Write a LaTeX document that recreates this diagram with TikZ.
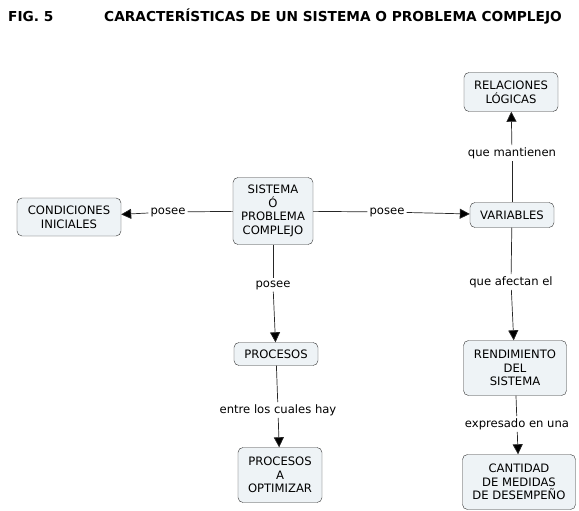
\documentclass[tikz,border=0pt]{standalone}
\usepackage{fontspec}
\setmainfont{DejaVu Sans}
\usetikzlibrary{arrows.meta, positioning}
\definecolor{conceptfill}{HTML}{EEF3F6}
\definecolor{conceptline}{HTML}{333333}

\tikzset{
    concept/.style={draw=conceptline, fill=conceptfill, rounded corners=5pt, align=center,
        font=\fontsize{11.6}{13.6}\selectfont, inner xsep=3pt, inner ysep=3pt},
    linklabel/.style={font=\fontsize{11.6}{13}\selectfont, inner sep=2pt, fill=white},
    link/.style={draw=black!85, line width=0.7pt},
    linkarrow/.style={link, -{Triangle[length=10pt, width=10pt, fill=black]}}
}

\begin{document}
\begin{tikzpicture}[x=1pt, y=-1pt]
    \useasboundingbox (0, 0) rectangle (579, 511);

    % ── Title ─────────────────────────────────────────────────────────
    \node[font=\bfseries\fontsize{13.7}{16}\selectfont, anchor=west, inner sep=0pt] (fig) at (8, 17) {FIG. 5};
    \node[font=\bfseries\fontsize{13.7}{16}\selectfont, anchor=west, inner sep=0pt] (title) at (104, 17)
        {CARACTERÍSTICAS DE UN SISTEMA O PROBLEMA COMPLEJO};

    % ── Concepts ──────────────────────────────────────────────────────
    \node[concept, minimum width=80pt, minimum height=67pt] (sistema) at (273, 211) {SISTEMA\\Ó\\PROBLEMA\\COMPLEJO};
    \node[concept, minimum width=104pt, minimum height=38pt] (condiciones) at (69, 217) {CONDICIONES\\INICIALES};
    \node[concept, minimum width=84pt, minimum height=25pt] (variables) at (512, 215) {VARIABLES};
    \node[concept, minimum width=94pt, minimum height=39pt] (relaciones) at (511, 92) {RELACIONES\\LÓGICAS};
    \node[concept, minimum width=84pt, minimum height=23pt] (procesos) at (276, 354) {PROCESOS};
    \node[concept, minimum width=84pt, minimum height=55pt] (optimizar) at (280, 475) {PROCESOS\\A\\OPTIMIZAR};
    \node[concept, minimum width=103pt, minimum height=55pt] (rendimiento) at (515, 368) {RENDIMIENTO\\DEL\\SISTEMA};
    \node[concept, minimum width=113pt, minimum height=55pt] (cantidad) at (519, 482) {CANTIDAD\\DE MEDIDAS\\DE DESEMPEÑO};

    % ── Link labels ───────────────────────────────────────────────────
    \node[linklabel] (poseeL) at (168, 212) {posee};
    \node[linklabel] (poseeR) at (387, 212) {posee};
    \node[linklabel] (poseeD) at (273, 285) {posee};
    \node[linklabel] (entre) at (278, 410) {entre los cuales hay};
    \node[linklabel] (afectan) at (511, 282) {que afectan el};
    \node[linklabel] (expresado) at (517, 424) {expresado en una};
    \node[linklabel] (mantienen) at (512, 153) {que mantienen};

    % ── Links ─────────────────────────────────────────────────────────
    \draw[link] (sistema) -- (poseeL);
    \draw[linkarrow] (poseeL) -- (condiciones);
    \draw[link] (sistema) -- (poseeR);
    \draw[linkarrow] (poseeR) -- (variables);
    \draw[link] (sistema) -- (poseeD);
    \draw[linkarrow] (poseeD) -- (procesos);
    \draw[link] (procesos) -- (entre);
    \draw[linkarrow] (entre) -- (optimizar);
    \draw[link] (variables) -- (afectan);
    \draw[linkarrow] (afectan) -- (rendimiento);
    \draw[link] (rendimiento) -- (expresado);
    \draw[linkarrow] (expresado) -- (cantidad);
    \draw[link] (variables) -- (mantienen);
    \draw[linkarrow] (mantienen) -- (relaciones);
\end{tikzpicture}
\end{document}
